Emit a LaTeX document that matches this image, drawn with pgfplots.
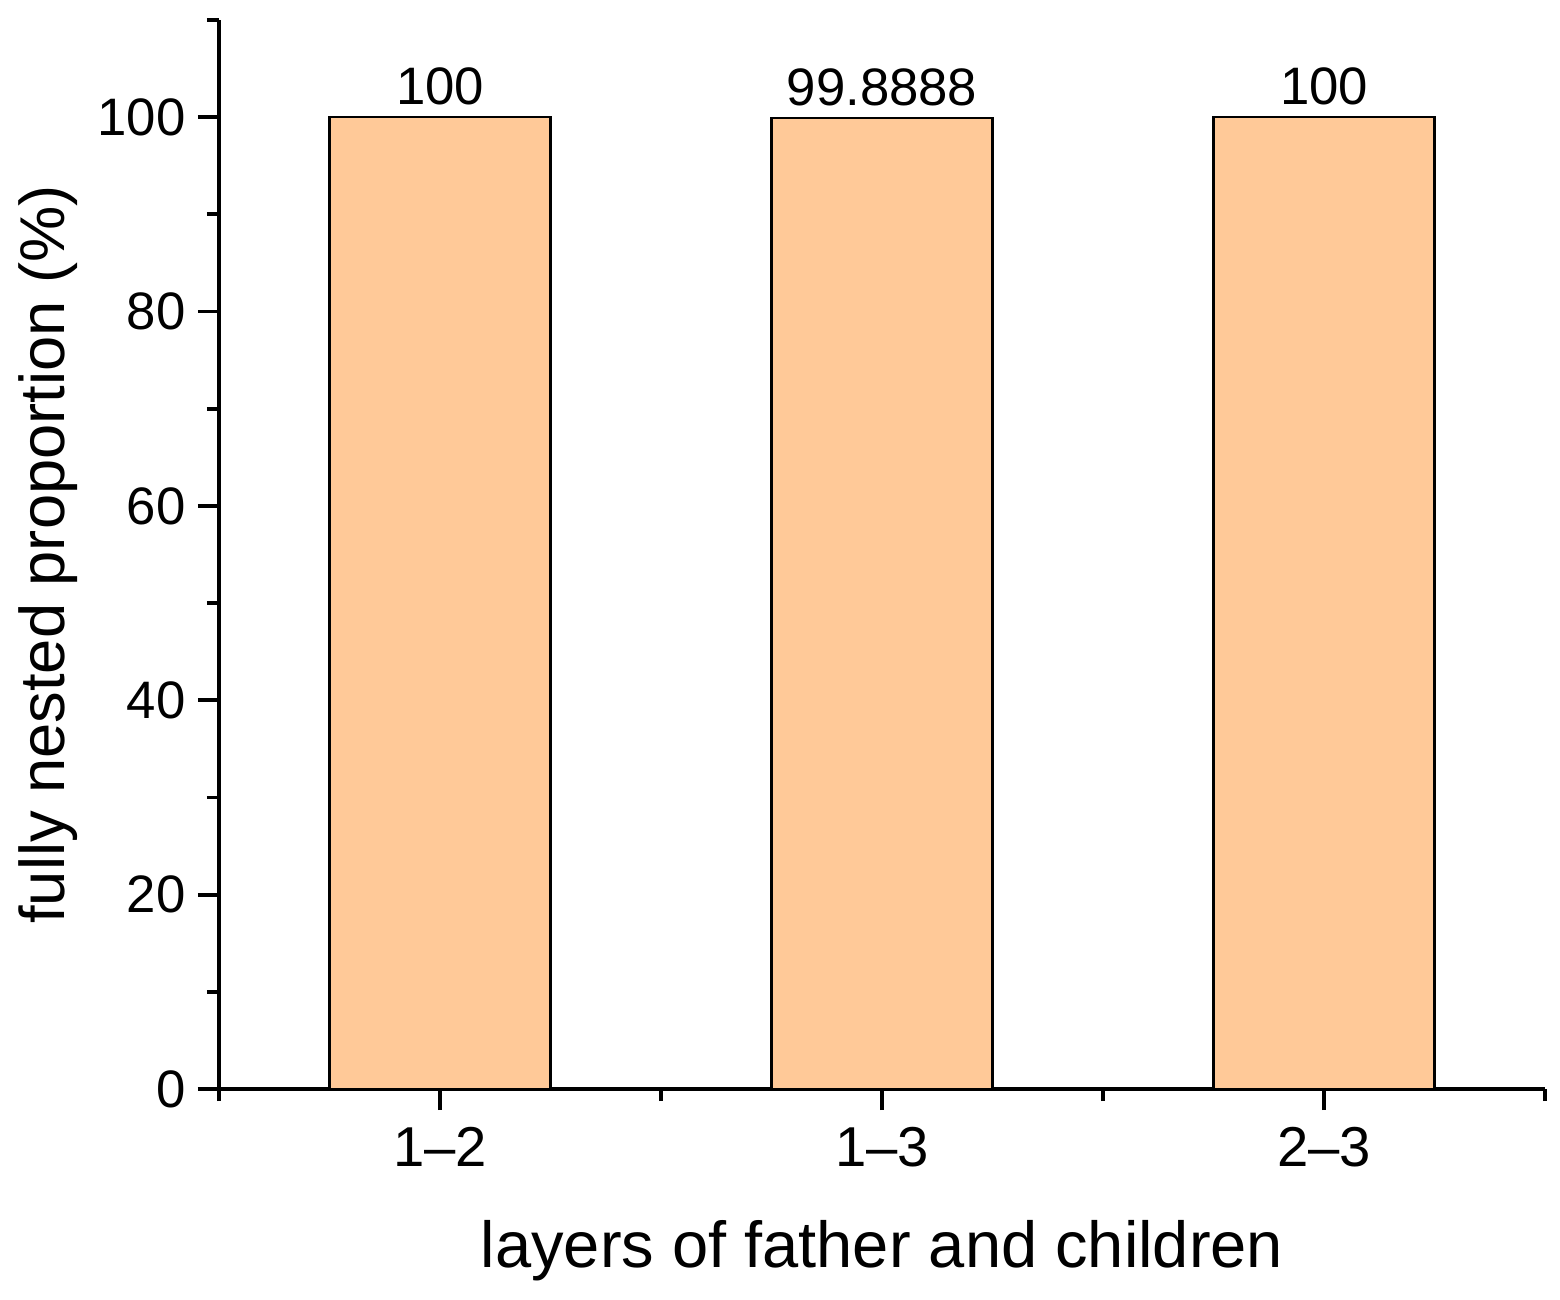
\documentclass[border=0pt]{standalone}
\usepackage{fontspec}
\setmainfont{Liberation Sans}
\usepackage{pgfplots}
\pgfplotsset{compat=1.18}
\definecolor{peach}{RGB}{255,201,152}
\begin{document}
\begin{tikzpicture}
\begin{axis}[
    scale only axis,
    width=13.26cm, height=10.69cm,
    axis x line=bottom, axis y line=left,
    axis line style={line width=1.1pt, -},
    x axis line style={shorten <=-0.21cm},
    every tick/.style={black, line width=1.1pt},
    tick align=outside,
    major tick length=0.21cm, minor tick length=0.12cm,
    xmin=-0.5, xmax=2.5, ymin=0, ymax=110,
    xtick={0,1,2}, xticklabels={1\textendash2,1\textendash3,2\textendash3},
    minor xtick={-0.5,0.5,1.5,2.5},
    ytick={0,20,...,100}, minor ytick={10,30,...,110},
    /pgf/number format/assume math mode=true,
    xticklabel style={font=\fontsize{16}{19}\selectfont, yshift=-0.05cm},
    yticklabel style={font=\fontsize{15}{18}\selectfont},
    xlabel={layers of father and children},
    ylabel={fully nested proportion (\%)},
    xlabel style={font=\fontsize{18.5}{22}\selectfont, at={(axis description cs:0.5,-0.1674)}, anchor=base},
    ylabel style={font=\fontsize{18}{22}\selectfont, at={(axis description cs:-0.129,0.5)}, anchor=center},
    ybar, bar width=0.5,
    point meta=explicit symbolic,
    nodes near coords,
    every node near coord/.append style={font=\fontsize{15}{18}\selectfont, anchor=base, yshift=0.13cm, inner sep=0pt},
]
\addplot[fill=peach, draw=black, line width=0.6pt] coordinates {
    (0,100) [100]
    (1,99.8888) [99.8888]
    (2,100) [100]
};
\end{axis}
\path (current axis.south west) ++(-2.19cm,-2.10cm) (current axis.north east) ++(0.15cm,0.20cm);
\end{tikzpicture}
\end{document}
